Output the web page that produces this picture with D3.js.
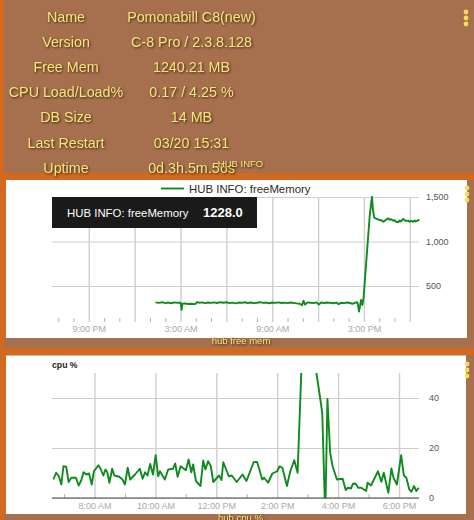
<!DOCTYPE html>
<html><head><meta charset="utf-8">
<script src="https://cdn.jsdelivr.net/npm/d3@7/dist/d3.min.js"></script>
<style>
html,body{margin:0;padding:0;background:#a6704e;overflow:hidden}
svg{display:block}
text{font-family:"Liberation Sans",Arial,sans-serif}
</style></head><body>
<svg id="c" width="474" height="520"></svg>
<script>
const infoLabels = ["Name","Version","Free Mem","CPU Load/Load%","DB Size","Last Restart","Uptime"];
const infoValues = ["Pomonabill C8(new)","C-8 Pro / 2.3.8.128","1240.21 MB","0.17 / 4.25 %","14 MB","03/20 15:31","0d.3h.5m.56s"];

const memPoints = [[1.36,316],[1.6,311],[1.8,318],[2.0,308],[2.2,314],[2.4,306],[2.6,316],[2.8,310],[2.95,314],[3.02,305],[3.07,232],[3.13,302],[3.3,303],[3.5,298],[3.7,301],[3.9,296],[4.0,300],[4.08,320],[4.2,312],[4.4,316],[4.6,308],[4.8,314],[5.0,310],[5.2,316],[5.4,309],[5.6,318],[5.8,312],[6.0,317],[6.2,308],[6.4,313],[6.6,305],[6.8,314],[7.0,311],[7.2,317],[7.4,309],[7.6,315],[7.8,308],[8.0,312],[8.2,318],[8.4,310],[8.6,314],[8.8,306],[9.0,315],[9.2,310],[9.4,316],[9.6,309],[9.8,313],[10.0,307],[10.2,315],[10.4,311],[10.6,305],[10.8,301],[10.95,285],[11.05,334],[11.15,290],[11.3,316],[11.5,312],[11.7,308],[11.9,316],[12.05,292],[12.2,314],[12.4,309],[12.6,315],[12.8,311],[13.0,306],[13.2,314],[13.35,295],[13.5,312],[13.7,308],[13.9,315],[14.1,309],[14.25,300],[14.4,310],[14.55,318],[14.6,300],[14.68,212],[14.81,343],[14.9,287],[14.97,362],[15.0,420],[15.2,885],[15.38,1295],[15.48,1444],[15.53,1500],[15.59,1351],[15.68,1265],[15.8,1258],[15.94,1249],[16.03,1238],[16.12,1242],[16.27,1222],[16.41,1240],[16.5,1252],[16.59,1260],[16.68,1245],[16.77,1250],[16.92,1234],[17.0,1240],[17.1,1222],[17.25,1216],[17.33,1235],[17.42,1225],[17.57,1253],[17.66,1240],[17.75,1232],[17.9,1234],[17.98,1222],[18.08,1232],[18.23,1222],[18.32,1235],[18.4,1225],[18.55,1241],[18.63,1238]];
const memGridHours = [-3,0,3,6,9,12,15,18];
const memMinorHours = [-5,-4,-2,-1,1,2,4,5,7,8,10,11,13,14,16,17];
const memTickHours = [-3,3,9,15];
const memTickLabels = ["9:00 PM","3:00 AM","9:00 AM","3:00 PM"];
const memYTicks = [500,1000,1500];

const cpuHours = [6.65,6.74,6.83,6.91,6.98,7.07,7.15,7.24,7.39,7.48,7.57,7.64,7.73,7.82,7.91,7.98,8.13,8.21,8.29,8.36,8.42,8.49,8.58,8.65,8.81,8.92,9.00,9.09,9.17,9.33,9.49,9.58,9.66,9.74,9.83,9.92,10.01,10.09,10.15,10.31,10.42,10.58,10.65,10.73,10.83,11.00,11.09,11.18,11.24,11.33,11.48,11.57,11.64,11.73,11.82,11.90,12.09,12.17,12.23,12.41,12.51,12.67,12.86,12.99,13.23,13.34,13.51,13.57,13.70,13.84,14.0,14.08,14.17,14.32,14.43,14.56,14.67,14.79,14.96,15.12,15.29,15.42,15.48,15.56,15.59,15.65,15.74,15.82,15.96,16.15,16.25,16.32,16.42,16.49,16.57,16.66,16.76,16.92,16.97,17.08,17.31,17.42,17.50,17.65,17.75,17.82,17.93,18.07,18.16,18.24,18.34,18.41,18.49,18.57,18.65];
const cpuValues = [7.4,10.1,8.7,5.4,12.7,12.5,6.4,8.1,8.1,5.0,7.2,10.3,9.4,9.8,5.4,10.7,13.1,11.4,9.0,11.4,10.3,6.1,11.7,9.0,8.5,7.4,5.4,12.1,7.4,9.4,11.7,7.7,10.3,9.0,13.6,9.4,17.1,8.7,10.7,7.4,11.4,11.7,13.8,8.5,12.7,11.1,15.4,10.3,13.4,6.8,4.8,15.0,11.4,14.7,12.7,6.4,9.0,7.2,14.3,8.7,9.0,6.4,9.4,6.8,14.4,14.4,7.4,8.1,6.1,9.8,10.7,12.7,12.1,4.8,10.7,15.1,10.1,49.8,75,72,49.8,39.2,33.9,0.1,0.1,39.6,18.0,12.7,7.4,7.7,3.2,4.1,3.8,5.7,5.8,4.1,4.1,2.8,6.1,5.0,10.7,6.5,10.1,2.1,11.8,8.1,5.4,17.1,9.0,8.1,3.4,2.5,4.8,2.8,4.1];
const cpuTickHours = [8,10,12,14,16,18];
const cpuTickLabels = ["8:00 AM","10:00 AM","12:00 PM","2:00 PM","4:00 PM","6:00 PM"];
const cpuMinorHours = [7,9,11,13,15,17];
const cpuYTicks = [0,20,40];

const svg = d3.select("#c");
const ORANGE="#d2691e", BROWN="#a6704e", YEL="#f8e77f", GRID="#cfcdd0", GREEN="#0f8a1e";
const FONT='"Liberation Sans",Arial,sans-serif';

svg.append("defs").append("clipPath").attr("id","cpuClip").append("rect")
  .attr("x",52).attr("y",373).attr("width",368).attr("height",130);

const rect=(x,y,w,h,f)=>svg.append("rect").attr("x",x).attr("y",y).attr("width",w).attr("height",h).attr("fill",f);
rect(0,0,474,520,BROWN);
rect(0,0,4,520,ORANGE);
rect(0,173,474,7,ORANGE);
rect(0,180,6,158,ORANGE);
rect(0,348,474,7,ORANGE);
rect(0,355,6,159,ORANGE);
rect(6,180,461,158,"#fff");
rect(6,355.5,460,158.5,"#fff");

const shadow="drop-shadow(1px 1px 1px rgba(45,25,0,.85))";
const info=svg.append("g").style("filter",shadow).attr("fill",YEL).attr("font-size",14.3).attr("text-anchor","middle");
const rowY=[22,47,72,97,122,148,173];
infoLabels.forEach((t,i)=>info.append("text").attr("x",66).attr("y",rowY[i]).text(t));
infoValues.forEach((t,i)=>info.append("text").attr("x",191.5).attr("y",rowY[i]).text(t));

const small=svg.append("g").style("filter",shadow).attr("fill",YEL).attr("text-anchor","middle").attr("font-size",9.5);
small.append("text").attr("x",240.5).attr("y",167).text("HUB INFO");
small.append("text").attr("x",241).attr("y",344).text("hub free mem");
small.append("text").attr("x",240.5).attr("y",521).text("hub cpu %");

[[466,12],[466,18],[466,24],[467,188],[467,194],[467,200],[467,364],[467,370],[467,376]].forEach(d=>{
  svg.append("circle").attr("cx",d[0]).attr("cy",d[1]).attr("r",2.4).attr("fill","#f2dd62");
});

function drawAxes(x,y,top,bottom,gridH,tickH,labels,minorH,yTicks,yFmt,yPad,labelPad){
  const left=52,right=419;
  svg.append("g").attr("transform",`translate(0,${bottom})`)
    .call(d3.axisBottom(x).tickValues(gridH).tickSize(top-bottom).tickFormat(""))
    .call(g=>{g.select(".domain").remove();g.selectAll("line").attr("stroke",GRID).attr("stroke-width",1.4);});
  svg.append("g").attr("transform",`translate(0,${bottom})`)
    .call(d3.axisBottom(x).tickValues(minorH).tickSize(-4).tickFormat(""))
    .call(g=>{g.select(".domain").remove();g.selectAll("line").attr("stroke","#b5b3b5").attr("stroke-width",1);});
  svg.append("g").attr("transform",`translate(${left},0)`)
    .call(d3.axisRight(y).tickValues(yTicks).tickSize(right-left).tickFormat(yFmt).tickPadding(yPad))
    .call(g=>{g.select(".domain").remove();
      g.selectAll("line").attr("stroke",GRID).attr("stroke-width",1.2);
      g.selectAll("text").attr("fill","#555").attr("font-size",9).attr("font-family",FONT);});
  svg.append("g").attr("transform",`translate(0,${bottom})`)
    .call(d3.axisBottom(x).tickValues(tickH).tickSize(0).tickPadding(labelPad).tickFormat((d,i)=>labels[i]))
    .call(g=>{g.select(".domain").remove();
      g.selectAll("text").attr("fill","#a9a9a9").attr("font-size",9).attr("font-family",FONT);});
}

// free memory chart
const memX=d3.scaleLinear().domain([-3,18]).range([88.8,409.8]);
const memY=d3.scaleLinear().domain([500,1500]).range([286,197]);
drawAxes(memX,memY,197,322,memGridHours,memTickHours,memTickLabels,memMinorHours,memYTicks,d3.format(","),7,4);
svg.append("path").datum(memPoints)
  .attr("fill","none").attr("stroke",GREEN).attr("stroke-width",1.9).attr("stroke-linejoin","round")
  .attr("d",d3.line().x(d=>memX(d[0])).y(d=>memY(d[1])));
svg.append("line").attr("x1",161).attr("x2",184).attr("y1",188.5).attr("y2",188.5).attr("stroke",GREEN).attr("stroke-width",1.9);
svg.append("text").attr("x",189).attr("y",192.5).attr("font-size",11.4).attr("fill","#2b2b2b").text("HUB INFO: freeMemory");
rect(52,197,205,31,"#1a1a1a");
svg.append("text").attr("x",67).attr("y",216.5).attr("font-size",11.4).attr("fill","#fff").text("HUB INFO: freeMemory");
svg.append("text").attr("x",203).attr("y",216.5).attr("font-size",13).attr("font-weight","bold").attr("fill","#fff").text("1228.0");

// cpu chart
const cpuX=d3.scaleLinear().domain([8,18]).range([94.5,399]);
const cpuY=d3.scaleLinear().domain([0,40]).range([498,398]);
drawAxes(cpuX,cpuY,373,498,cpuTickHours,cpuTickHours,cpuTickLabels,cpuMinorHours,cpuYTicks,d=>d,10,5);
svg.append("line").attr("x1",52).attr("x2",419).attr("y1",cpuY(0)).attr("y2",cpuY(0)).attr("stroke","#444").attr("stroke-width",1);
svg.append("path").datum(cpuHours.map((h,i)=>[h,cpuValues[i]]))
  .attr("clip-path","url(#cpuClip)")
  .attr("fill","none").attr("stroke",GREEN).attr("stroke-width",1.9).attr("stroke-linejoin","round")
  .attr("d",d3.line().x(d=>cpuX(d[0])).y(d=>cpuY(d[1])));
svg.append("text").attr("x",52).attr("y",368).attr("font-size",8.7).attr("font-weight","bold").attr("fill","#222").text("cpu %");
</script>
</body></html>
